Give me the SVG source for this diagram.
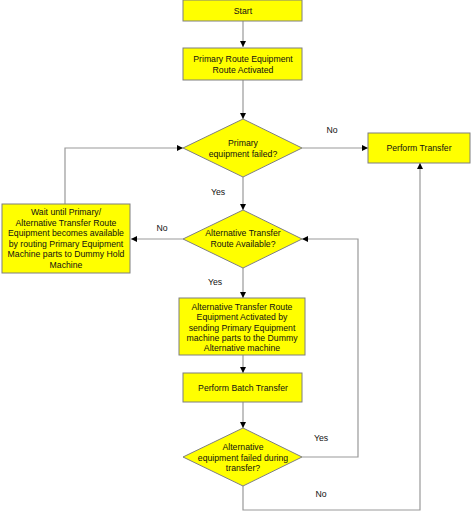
<svg xmlns="http://www.w3.org/2000/svg" width="474" height="519" viewBox="0 0 474 519">
<style>
.n{fill:#ffff00;stroke:#7f7f7f;stroke-width:1}
.t{font-family:"Liberation Sans",Arial,sans-serif;font-size:8.7px;fill:#111;text-anchor:middle}
.c{fill:none;stroke:#999;stroke-width:1.2}
</style>
<defs>
<marker id="a" viewBox="0 0 10 10" refX="10" refY="5" markerWidth="6" markerHeight="6" markerUnits="userSpaceOnUse" orient="auto">
<path d="M0,0 L10,5 L0,10 Z" fill="#000"/>
</marker>
</defs>
<rect width="474" height="519" fill="#fff"/>
<g id="connectors">
<path class="c" d="M243,21 V47" marker-end="url(#a)"/>
<path class="c" d="M243,80 V119" marker-end="url(#a)"/>
<path class="c" d="M302,148 H368" marker-end="url(#a)"/>
<path class="c" d="M243,177 V210" marker-end="url(#a)"/>
<path class="c" d="M183,239 H131" marker-end="url(#a)"/>
<path class="c" d="M65,204 V148 H183" marker-end="url(#a)"/>
<path class="c" d="M243,268 V298" marker-end="url(#a)"/>
<path class="c" d="M243,355 V373" marker-end="url(#a)"/>
<path class="c" d="M243,402 V428" marker-end="url(#a)"/>
<path class="c" d="M302,457 H358 V239 H302" marker-end="url(#a)"/>
<path class="c" d="M243,486 V510 H420 V163" marker-end="url(#a)"/>
<text class="t" x="332" y="133">No</text>
<text class="t" x="218" y="195">Yes</text>
<text class="t" x="162" y="231">No</text>
<text class="t" x="215" y="285">Yes</text>
<text class="t" x="321" y="441">Yes</text>
<text class="t" x="321" y="497">No</text>
</g>
<g id="start">
<rect class="n" x="183" y="0" width="119" height="21"/>
<text class="t" x="243" y="14">Start</text>
</g>
<g id="primary-route">
<rect class="n" x="183" y="48" width="119" height="32"/>
<text class="t" x="243" y="62">Primary Route Equipment</text>
<text class="t" x="243" y="72.5">Route Activated</text>
</g>
<g id="primary-failed">
<polygon class="n" points="243,119 302,148 243,177 183,148"/>
<text class="t" x="243" y="146">Primary</text>
<text class="t" x="243" y="156.5">equipment failed?</text>
</g>
<g id="perform-transfer">
<rect class="n" x="368" y="133" width="102" height="30"/>
<text class="t" x="419" y="151">Perform Transfer</text>
</g>
<g id="alt-available">
<polygon class="n" points="243,210 302,239 243,268 183,239"/>
<text class="t" x="243" y="236">Alternative Transfer</text>
<text class="t" x="243" y="246.5">Route Available?</text>
</g>
<g id="wait">
<rect class="n" x="2" y="204" width="128" height="69"/>
<text class="t" x="66" y="215">Wait until Primary/</text>
<text class="t" x="66" y="225.5">Alternative Transfer Route</text>
<text class="t" x="66" y="236">Equipment becomes available</text>
<text class="t" x="66" y="246.5">by routing Primary Equipment</text>
<text class="t" x="66" y="257">Machine parts to Dummy Hold</text>
<text class="t" x="66" y="267.5">Machine</text>
</g>
<g id="alt-activated">
<rect class="n" x="179" y="298" width="126" height="57"/>
<text class="t" x="242" y="309.5">Alternative Transfer Route</text>
<text class="t" x="242" y="320">Equipment Activated by</text>
<text class="t" x="242" y="330.5">sending Primary Equipment</text>
<text class="t" x="242" y="341">machine parts to the Dummy</text>
<text class="t" x="242" y="351">Alternative machine</text>
</g>
<g id="batch">
<rect class="n" x="183" y="373" width="119" height="29"/>
<text class="t" x="243" y="391">Perform Batch Transfer</text>
</g>
<g id="alt-failed">
<polygon class="n" points="243,428 302,457 243,486 183,457"/>
<text class="t" x="243" y="450">Alternative</text>
<text class="t" x="243" y="460.5">equipment failed during</text>
<text class="t" x="243" y="471">transfer?</text>
</g>
</svg>
